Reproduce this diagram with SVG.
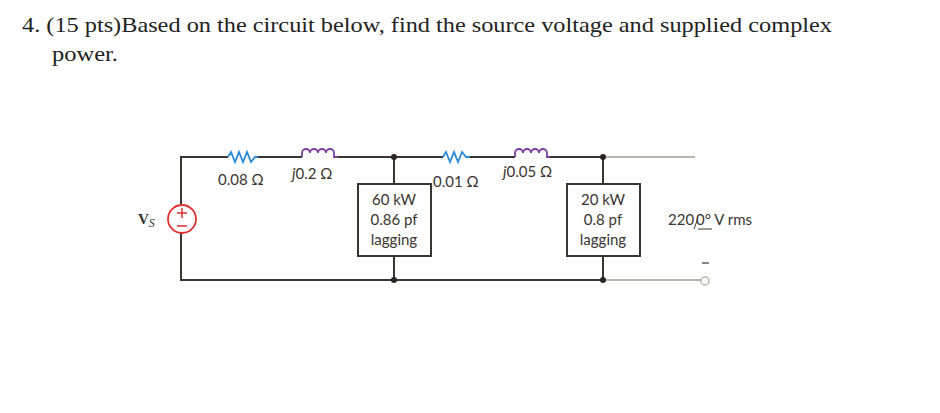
<svg xmlns="http://www.w3.org/2000/svg" width="940" height="413" viewBox="0 0 940 413">
<style>
.w{stroke:#3a3530;stroke-width:2;fill:none}
.g{stroke:#b9b6ae;stroke-width:2;fill:none}
.r{stroke:#2a8ad8;stroke-width:1.8;fill:none}
.l{stroke:#7a3fa0;stroke-width:1.8;fill:none}
.t{font-family:Lato,"Liberation Sans",sans-serif;font-size:15px;fill:#3a3530}
.h{font-family:"Liberation Serif",serif;font-size:21px;fill:#222}
.box{fill:#fff;stroke:#3a3530;stroke-width:2}
.d{fill:#2a2520}
</style>
<rect width="940" height="413" fill="#fff"/>
<text class="h" x="22" y="32" textLength="810" lengthAdjust="spacingAndGlyphs">4.  (15 pts)Based on the circuit below, find the source voltage and supplied complex</text>
<text class="h" x="52" y="61" textLength="66" lengthAdjust="spacingAndGlyphs">power.</text>
<g id="connectors">
<path class="w" d="M181 205 V157 H228 M258 157 H302 M338 157 H443 M470 157 H515 M550 157 H603"/>
<path class="g" d="M603 157 H695 M603 280 H701"/>
<path class="w" d="M181 233 V280 H603"/>
<path class="w" d="M394 157 V184 M394 256 V280 M603 157 V184 M603 256 V280"/>
<circle class="d" cx="394" cy="157" r="3"/><circle class="d" cx="394" cy="280" r="3"/>
<circle class="d" cx="603" cy="157" r="3"/><circle class="d" cx="603" cy="280" r="3"/>
<circle cx="705" cy="281" r="4" fill="#fff" stroke="#b9b6ae" stroke-width="1.5"/>
</g>
<g id="vs">
<circle cx="182" cy="219" r="14" fill="#fff" stroke="#e03030" stroke-width="1.8"/>
<path d="M177 213 H187 M182 208 V218 M177 226 H187" stroke="#e03030" stroke-width="1.5"/>
<text x="138" y="224" font-family="Liberation Serif,serif" font-weight="bold" font-size="15" fill="#333">V<tspan font-size="12" font-style="italic" font-weight="normal" dy="3">S</tspan></text>
</g>
<g id="r1"><path class="r" d="M228 157 l3 -5 l4 10 l4 -10 l4 10 l4 -10 l4 10 l4 -5 h3"/><text class="t" x="218" y="185">0.08 Ω</text></g>
<g id="l1"><path class="l" d="M302 157 v-4 a4 4 0 0 1 8 0 a4 4 0 0 1 8 0 a4 4 0 0 1 8 0 a4 4 0 0 1 8 0 v4 h4"/><text class="t" x="292" y="179"><tspan font-style="italic">j</tspan>0.2 Ω</text></g>
<g id="r2"><path class="r" d="M443 157 l3 -5 l4 10 l4 -10 l4 10 l4 -10 l4 5 h4"/><text class="t" x="433" y="187">0.01 Ω</text></g>
<g id="l2"><path class="l" d="M515 157 v-4 a4 4 0 0 1 8 0 a4 4 0 0 1 8 0 a4 4 0 0 1 8 0 a4 4 0 0 1 8 0 v4 h3"/><text class="t" x="503" y="177"><tspan font-style="italic">j</tspan>0.05 Ω</text></g>
<g id="load1"><rect class="box" x="358" y="184" width="73" height="72"/>
<text class="t" text-anchor="middle" x="394" y="205">60 kW</text><text class="t" text-anchor="middle" x="394" y="225">0.86 pf</text><text class="t" text-anchor="middle" x="394" y="245">lagging</text></g>
<g id="load2"><rect class="box" x="567" y="184" width="73" height="72"/>
<text class="t" text-anchor="middle" x="603" y="205">20 kW</text><text class="t" text-anchor="middle" x="603" y="225">0.8 pf</text><text class="t" text-anchor="middle" x="603" y="245">lagging</text></g>
<g id="vout"><text class="t" x="668" y="225">220<tspan dx="2">0°</tspan> V rms</text>
<path d="M694 229 l4 -11 M698 229 H712" stroke="#3a3530" stroke-width="1"/>
<path d="M702 263 H709" stroke="#3a3530" stroke-width="1.2"/></g>
</svg>
